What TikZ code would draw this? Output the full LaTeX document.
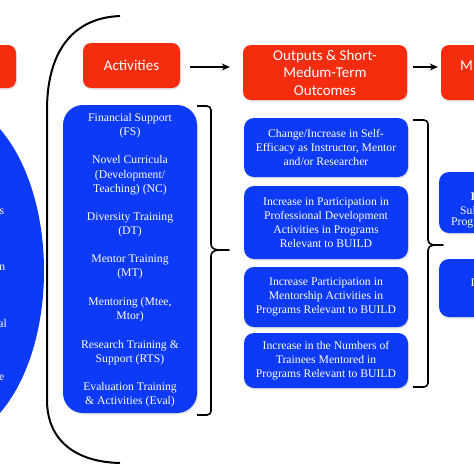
\documentclass[tikz,border=0pt]{standalone}
\usepackage{fontspec}
\setmainfont{Liberation Serif}
\newfontfamily\serifx{Liberation Serif}
\newfontfamily\carlito{Carlito}
\usetikzlibrary{shadows,arrows.meta,shapes.geometric}
\definecolor{myred}{RGB}{246,44,14}
\definecolor{myblue}{RGB}{12,58,246}
\begin{document}
\begin{tikzpicture}[x=1pt,y=-1pt,
  shad/.style={drop shadow={opacity=0.22,shadow xshift=1pt,shadow yshift=-1.5pt}},
  redbox/.style={fill=myred, rounded corners=8pt, text=white, align=center, inner sep=0pt,
    font=\carlito\fontsize{15}{17.5}\selectfont, shad},
  bluebox/.style={fill=myblue, rounded corners=10pt, text=white, align=center, inner sep=0pt,
    font=\serifx\fontsize{11.7}{13.8}\selectfont, shad},
  itemtxt/.style={text=white, align=center, inner sep=0pt, font=\serifx\fontsize{11.7}{14.3}\selectfont},
  fragtxt/.style={text=white, inner sep=0pt, font=\serifx\fontsize{11.7}{14}\selectfont},
  bracepath/.style={line width=1.6pt, line join=round},
  arr/.style={line width=1.5pt, -{Stealth[length=8pt,width=7pt]}}
]
\useasboundingbox (0,0) rectangle (474,474);
\fill[white] (0,0) rectangle (474,474);

% left (cut-off) column
\node[redbox, minimum width=66pt, minimum height=43pt] (inp) at (-17,66.5) {};
\node[ellipse, fill=myblue, minimum width=196pt, minimum height=340pt, inner sep=0pt] (inell) at (-54,271) {};
\node[fragtxt, anchor=east] (f1) at (4.5,212) {s};
\node[fragtxt, anchor=east] (f2) at (5.5,268) {n};
\node[fragtxt, anchor=east] (f3) at (7,323) {al};
\node[fragtxt, anchor=east] (f4) at (4.5,378) {e};

% big parenthesis
\coordinate (pt) at (120,16);
\coordinate (pb) at (120,463);
\draw[line width=2pt] (pt) .. controls (70,18) and (47,55) .. (47,110) -- (47,400) .. controls (47,440) and (75,462) .. (pb);

% header boxes
\node[redbox, minimum width=97pt, minimum height=45pt] (act) at (131.5,65.5) {Activities};
\node[redbox, minimum width=164pt, minimum height=55pt] (out) at (325,72.5) {Outputs \& Short-\\Medum-Term\\Outcomes};
\node[redbox, minimum width=120pt, minimum height=55pt] (mbox) at (501,72.5) {};
\node[fragtxt, anchor=west, font=\carlito\fontsize{15}{17.5}\selectfont] (mtxt) at (460,66) {M};

\draw[arr] ([shift={(10pt,-1.5pt)}]act.east) -- ([shift={(-13pt,-1.5pt)}]act.east -| out.west);
\draw[arr] ([shift={(6pt,5.5pt)}]out.east) -- ([shift={(-3pt,5.5pt)}]out.east -| mbox.west);

% activities box
\node[bluebox, rounded corners=20pt, minimum width=134pt, minimum height=308pt] (actbox) at (130,259) {};
\node[itemtxt] (fs) at (130,125.5) {Financial Support\\(FS)};
\node[itemtxt] (nc) at (130,175.5) {Novel Curricula\\(Development/\\Teaching) (NC)};
\node[itemtxt] (dt) at (130,225) {Diversity Training\\(DT)};
\node[itemtxt] (mt) at (130,267) {Mentor Training\\(MT)};
\node[itemtxt] (mtr) at (130,310) {Mentoring (Mtee,\\Mtor)};
\node[itemtxt] (rts) at (130,353) {Research Training \&\\Support (RTS)};
\node[itemtxt] (ev) at (130,395) {Evaluation Training\\\& Activities (Eval)};

% brace for activities
\draw[bracepath] (197,106) -- (207,106) to[out=0,in=90] (211,110) -- (211,244) to[out=-90,in=180] (229,250)
  to[out=180,in=90] (211,256) -- (211,411) to[out=-90,in=0] (207,415) -- (197,415);

% outputs boxes
\node[bluebox, minimum width=164pt, minimum height=59pt] (o1) at (326,147.5) {Change/Increase in Self-\\Efficacy as Instructor, Mentor\\and/or Researcher};
\node[bluebox, minimum width=164pt, minimum height=73pt] (o2) at (326,222.5) {Increase in Participation in\\Professional Development\\Activities in Programs\\Relevant to BUILD};
\node[bluebox, minimum width=164pt, minimum height=60pt] (o3) at (326,297) {Increase Participation in\\Mentorship Activities in\\Programs Relevant to BUILD};
\node[bluebox, minimum width=164pt, minimum height=55pt] (o4) at (326,360.5) {Increase in the Numbers of\\Trainees Mentored in\\Programs Relevant to BUILD};

% brace for outputs
\draw[bracepath] (413,120) -- (424,120) to[out=0,in=90] (428,124) -- (428,240) to[out=-90,in=180] (443,245)
  to[out=180,in=90] (428,250) -- (428,383) to[out=-90,in=0] (424,387) -- (413,387);

% right (cut-off) boxes
\node[bluebox, minimum width=80pt, minimum height=61pt] (r1) at (479,202.5) {};
\node[bluebox, minimum width=80pt, minimum height=58pt] (r2) at (479,288) {};
\node[fragtxt, anchor=west, font=\serifx\bfseries\fontsize{11.7}{14}\selectfont] (r1a) at (470.5,197) {I};
\node[fragtxt, anchor=west] (r1b) at (460,210) {Sul};
\node[fragtxt, anchor=west] (r1c) at (451,223) {Prog};
\node[fragtxt, anchor=west] (r2a) at (470.5,283) {I};
\end{tikzpicture}
\end{document}
